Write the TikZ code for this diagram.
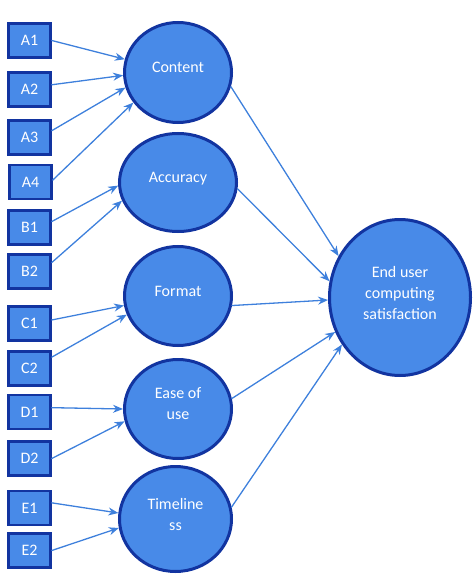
\documentclass[tikz,border=0pt]{standalone}
\usepackage{fontspec}
\setmainfont{Carlito}
\usetikzlibrary{shapes.geometric,arrows.meta}

\begin{document}
\begin{tikzpicture}
	[x=1pt,y=-1pt,line cap=round,
	%Styles
	item/.style={rectangle,draw=nodeedge,fill=nodefill,line width=2.6pt,minimum width=42pt,minimum height=34pt,inner sep=0pt,text=white,font=\fontsize{16}{21}\selectfont},
	factor/.style={ellipse,draw=nodeedge,fill=nodefill,line width=3pt,inner sep=0pt,align=center,text depth=10pt,text=white,font=\fontsize{16}{21}\selectfont},
	path arrow/.style={color=arrowcol,line width=1.3pt,-{Stealth[length=10pt,width=8pt]}}
	]
	
	%Colors
	\definecolor{nodefill}{RGB}{72,138,232}	%node inside
	\definecolor{nodeedge}{RGB}{18,52,160}	%node outline
	\definecolor{arrowcol}{RGB}{62,128,220}	%arrows
	
	\useasboundingbox (0,0) rectangle (474,580);
	
	%The graphic
	\node[item] (A1) at (29.5, 40.5) {A1};
	\node[item] (A2) at (29.5, 89.5) {A2};
	\node[item] (A3) at (29.5, 137.5) {A3};
	\node[item] (A4) at (30.5, 182) {A4};
	\node[item] (B1) at (29.5, 227.5) {B1};
	\node[item] (B2) at (29.5, 271.5) {B2};
	\node[item] (C1) at (29.5, 323.5) {C1};
	\node[item] (C2) at (29.5, 368.5) {C2};
	\node[item] (D1) at (29.5, 412) {D1};
	\node[item] (D2) at (29.5, 458.5) {D2};
	\node[item] (E1) at (29.5, 508) {E1};
	\node[item] (E2) at (29.5, 550.5) {E2};
	
	\node[factor,minimum width=107pt,minimum height=100pt] (con) at (178, 72.5) {Content};
	\node[factor,minimum width=117pt,minimum height=98pt] (acc) at (178, 182.5) {Accuracy};
	\node[factor,minimum width=107pt,minimum height=99pt] (fmt) at (178, 296) {Format};
	\node[factor,minimum width=107pt,minimum height=99pt] (ease) at (178, 409) {Ease of\\use};
	\node[factor,minimum width=112pt,minimum height=105pt] (time) at (175.5, 519) {Timeline\\ss};
	\node[factor,minimum width=141pt,minimum height=156pt] (eucs) at (400, 297.5) {End user\\computing\\satisfaction};
	
	\path[path arrow]
		(A1.east) edge (con.166)
		(A2.12) edge (con.183)
		(A3.17) edge (con.196)
		(A4.5) edge (con.214)
		(B1.15) edge (acc.183)
		(B2.22) edge (acc.198)
		(C1.9) edge (fmt.190)
		(C2.27) edge (fmt.200)
		(D1.11) edge (ease.180)
		(D2.east) edge (ease.193)
		(E1.13) edge (time.174)
		(E2.east) edge (time.189);
	
	\path[path arrow]
		(con.345) edge (eucs.146)
		(acc.354) edge (eucs.167)
		(fmt.350) edge (eucs.182)
		(ease.11) edge (eucs.208)
		(time.12) edge (eucs.219);
\end{tikzpicture}
\end{document}
